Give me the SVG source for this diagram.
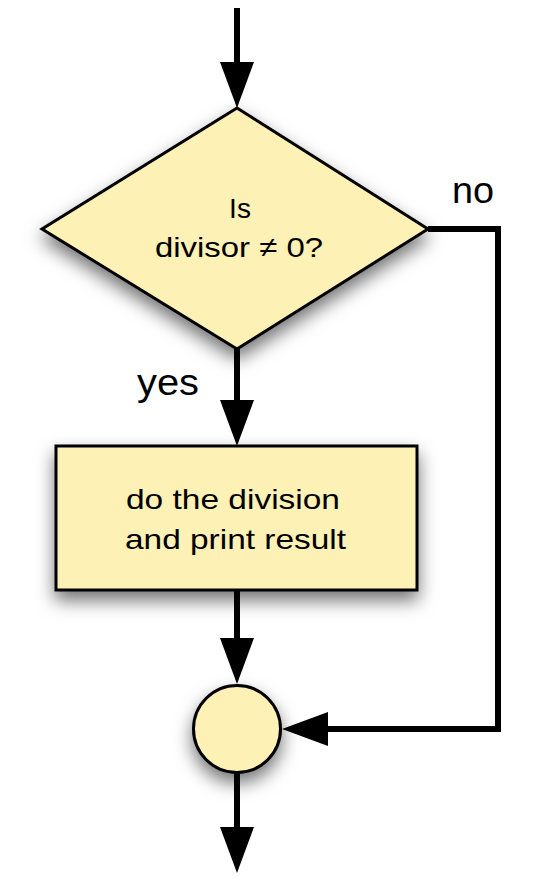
<svg xmlns="http://www.w3.org/2000/svg" width="553" height="893" viewBox="0 0 553 893">
  <style>
    .node { fill: #FDF1B6; stroke: #000; stroke-width: 3; filter: url(#shadow); }
    .conn { fill: none; stroke: #000; stroke-width: 6; stroke-linejoin: miter; }
    .arrow { marker-end: url(#head); }
    .lbl { font-family: "Liberation Sans", Arial, Helvetica, sans-serif; fill: #000; }
    .inner { font-size: 28px; text-anchor: middle; }
    .edge { font-size: 37px; }
  </style>
  <defs>
    <filter id="shadow" x="-30%" y="-30%" width="160%" height="170%">
      <feDropShadow dx="0" dy="9" stdDeviation="9" flood-color="#000" flood-opacity="0.55"/>
    </filter>
    <marker id="head" viewBox="0 0 46 34" refX="0" refY="17" markerWidth="46" markerHeight="34" markerUnits="userSpaceOnUse" orient="auto">
      <path d="M0,0 L46,17 L0,34 Z" fill="#000"/>
    </marker>
  </defs>

  <g id="connectors">
    <line class="conn arrow" x1="237" y1="8" x2="237" y2="62"/>
    <line class="conn arrow" x1="237" y1="349" x2="237" y2="400"/>
    <line class="conn arrow" x1="237" y1="590" x2="237" y2="638"/>
    <line class="conn arrow" x1="237" y1="773" x2="237" y2="827"/>
    <polyline class="conn arrow" points="428,229 498,229 498,729 328,729"/>
  </g>

  <g id="decision">
    <polygon class="node" points="237,108 428,229 237,349 42,229"/>
    <text class="lbl inner" x="240" y="218">Is</text>
    <text class="lbl inner" x="239" y="257" textLength="168" lengthAdjust="spacingAndGlyphs">divisor ≠ 0?</text>
  </g>

  <g id="process">
    <rect class="node" x="56" y="446" width="361" height="144"/>
    <text class="lbl inner" x="233" y="509" textLength="214" lengthAdjust="spacingAndGlyphs">do the division</text>
    <text class="lbl inner" x="235.5" y="549" textLength="221" lengthAdjust="spacingAndGlyphs">and print result</text>
  </g>

  <g id="junction">
    <circle class="node" cx="237" cy="729" r="43.5"/>
  </g>

  <g id="labels">
    <text class="lbl edge" x="137" y="395" textLength="62" lengthAdjust="spacingAndGlyphs">yes</text>
    <text class="lbl edge" x="452" y="203" textLength="42" lengthAdjust="spacingAndGlyphs">no</text>
  </g>
</svg>
